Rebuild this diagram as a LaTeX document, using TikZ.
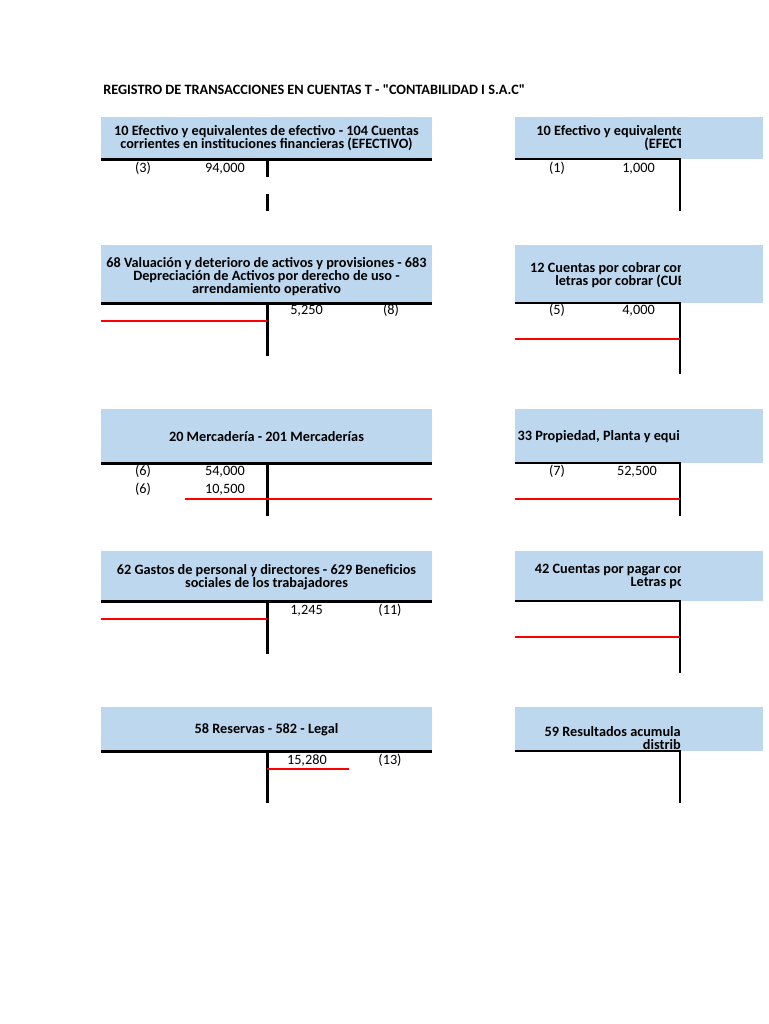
\documentclass[tikz,border=0pt]{standalone}
\usepackage{fontspec}
\setmainfont{Carlito}[Ligatures=TeXOff]
\usetikzlibrary{positioning}
\definecolor{celdaazul}{HTML}{BDD7EE}
\definecolor{rojo}{HTML}{FF0000}

\begin{document}
\begin{tikzpicture}[
        x=0.75pt, y=-0.75pt,
        celda/.style={fill=celdaazul},
        titulo/.style={font=\bfseries\fontsize{10.7}{9.9}\selectfont,
                       align=center, inner sep=0pt},
        tituloder/.style={font=\bfseries\fontsize{10.7}{9.9}\selectfont,
                          align=right, inner sep=0pt, anchor=east},
        monto/.style={font=\fontsize{10.7}{9.9}\selectfont, inner sep=0pt, anchor=base east},
        asiento/.style={font=\fontsize{10.7}{9.9}\selectfont, inner sep=0pt, anchor=base},
        tizq/.style={line width=2.25pt},
        tder/.style={line width=1.5pt},
        subraya/.style={draw=rojo, line width=1.5pt}
      ]
      \useasboundingbox[fill=white] (0,0) rectangle (768,1024);

      \node[font=\bfseries\fontsize{10.7}{9.9}\selectfont, anchor=west, inner sep=0pt]
        (encabezado) at (103,90)
        {REGISTRO DE TRANSACCIONES EN CUENTAS T - "CONTABILIDAD I S.A.C"};

      % celdas azules
      \fill[celda] (101,117) rectangle (432,159);
      \fill[celda] (515,117) rectangle (763,159);
      \fill[celda] (101,245) rectangle (432,303);
      \fill[celda] (515,245) rectangle (763,303);
      \fill[celda] (101,409) rectangle (432,463);
      \fill[celda] (515,409) rectangle (763,463);
      \fill[celda] (101,551) rectangle (432,601);
      \fill[celda] (515,551) rectangle (763,601);
      \fill[celda] (101,707) rectangle (432,751);
      \fill[celda] (515,707) rectangle (763,751);

      % nombres de cuentas, columna izquierda
      \node[titulo] (cta10) at (266.5,138)
        {10 Efectivo y equivalentes de efectivo - 104 Cuentas\\
         corrientes en instituciones financieras (EFECTIVO)};
      \node[titulo] (cta68) at (266.5,276.5)
        {68 Valuaci\'on y deterioro de activos y provisiones - 683\\
         Depreciaci\'on de Activos por derecho de uso -\\
         arrendamiento operativo};
      \node[titulo] (cta20) at (266.5,436.5) {20 Mercader\'ia - 201 Mercader\'ias};
      \node[titulo] (cta62) at (266.5,577)
        {62 Gastos de personal y directores - 629 Beneficios\\
         sociales de los trabajadores};
      \node[titulo] (cta58) at (266.5,729.5) {58 Reservas - 582 - Legal};

      % nombres de cuentas, columna derecha (cortados)
      \begin{scope}
        \clip (515,100) rectangle (680,800);
        \node[tituloder] (cta10b) at (684,138)
          {10 Efectivo y equivalente\\(EFECT};
        \node[tituloder] (cta12) at (685,275.5)
          {12 Cuentas por cobrar con\\letras por cobrar (CUE};
        \node[tituloder] (cta33) at (680,436.5) {33 Propiedad, Planta y equi};
        \node[tituloder] (cta42) at (685,576.5)
          {42 Cuentas por pagar con\\Letras po};
        \node[tituloder] (cta59) at (681,738)
          {59 Resultados acumula\\distrib};
      \end{scope}

      % cuentas T izquierda
      \draw[tizq] (101,159) -- (432,159);
      \draw[tizq] (267,159) -- (267,177);
      \draw[tizq] (267,194) -- (267,211);
      \draw[tizq] (101,303) -- (432,303);
      \draw[tizq] (267,303) -- (267,356);
      \draw[tizq] (101,463) -- (432,463);
      \draw[tizq] (267,463) -- (267,516);
      \draw[tizq] (101,601) -- (432,601);
      \draw[tizq] (267,601) -- (267,654);
      \draw[tizq] (101,751) -- (432,751);
      \draw[tizq] (267,751) -- (267,803);

      % cuentas T derecha
      \draw[tder] (515,159) -- (680,159) -- (680,211);
      \draw[tder] (515,303) -- (680,303) -- (680,374);
      \draw[tder] (515,463) -- (680,463) -- (680,516);
      \draw[tder] (515,601) -- (680,601) -- (680,673);
      \draw[tder] (515,751) -- (680,751) -- (680,803);

      % subrayados en rojo
      \draw[subraya] (101,321) -- (267,321);
      \draw[subraya] (515,339) -- (680,339);
      \draw[subraya] (185,499) -- (432,499);
      \draw[subraya] (515,499) -- (680,499);
      \draw[subraya] (101,619) -- (267,619);
      \draw[subraya] (515,637) -- (680,637);
      \draw[subraya] (267,769) -- (349,769);

      % asientos y montos
      \node[asiento] (a3)  at (143,172) {(3)};
      \node[monto]   (m3)  at (245,172) {94,000};
      \node[asiento] (a1)  at (557,172) {(1)};
      \node[monto]   (m1)  at (655,172) {1,000};
      \node[monto]   (m8)  at (323,314.5) {5,250};
      \node[asiento] (a8)  at (391,314.5) {(8)};
      \node[asiento] (a5)  at (557,314.5) {(5)};
      \node[monto]   (m5)  at (655,314.5) {4,000};
      \node[asiento] (a6)  at (143,475.5) {(6)};
      \node[monto]   (m6)  at (245,475.5) {54,000};
      \node[asiento] (a6b) at (143,493) {(6)};
      \node[monto]   (m6b) at (245,493) {10,500};
      \node[asiento] (a7)  at (557,475.5) {(7)};
      \node[monto]   (m7)  at (657,475.5) {52,500};
      \node[monto]   (m11) at (323,614) {1,245};
      \node[asiento] (a11) at (390,614) {(11)};
      \node[monto]   (m13) at (327,764) {15,280};
      \node[asiento] (a13) at (390,764) {(13)};
    \end{tikzpicture}
\end{document}
